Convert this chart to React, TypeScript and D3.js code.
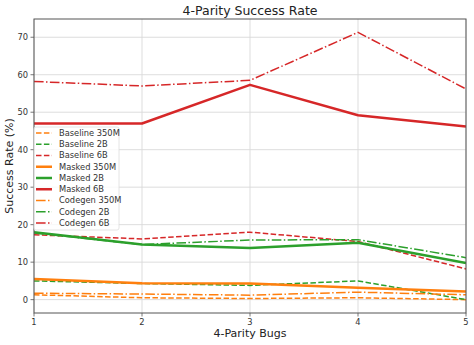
import React from "react";
import * as d3 from "d3";

const bugs = [1, 2, 3, 4, 5];
const seriesNames = [
  "Baseline 350M", "Baseline 2B", "Baseline 6B",
  "Masked 350M", "Masked 2B", "Masked 6B",
  "Codegen 350M", "Codegen 2B", "Codegen 6B",
];
const baseline350M = [1.3, 0.5, 0.3, 0.5, 0.0];
const baseline2B = [5.0, 4.3, 3.8, 5.0, 0.0];
const baseline6B = [17.3, 16.2, 18.0, 15.5, 8.2];
const masked350M = [5.5, 4.4, 4.3, 3.2, 2.2];
const masked2B = [18.0, 14.7, 13.8, 15.2, 9.8];
const masked6B = [47.0, 47.0, 57.3, 49.2, 46.2];
const codegen350M = [1.7, 1.5, 1.2, 2.0, 1.3];
const codegen2B = [17.8, 14.7, 15.9, 16.0, 11.2];
const codegen6B = [58.2, 57.0, 58.5, 71.3, 56.2];
const yTicks = [0, 10, 20, 30, 40, 50, 60, 70];

const allValues = [baseline350M, baseline2B, baseline6B, masked350M, masked2B, masked6B, codegen350M, codegen2B, codegen6B];
const colors = ["#ff7f0e", "#2ca02c", "#d62728"];
const kinds = ["dashed", "solid", "dashdot"];

export default function App() {
  const W = 474, H = 345;
  const left = 34, right = 466, top = 19, bottom = 313;
  const x = d3.scaleLinear().domain([1, 5]).range([left, right]);
  const yMin = 0, yMax = 71.3, pad = (yMax - yMin) * 0.05;
  const y = d3.scaleLinear().domain([yMin - pad, yMax + pad]).range([bottom, top]);
  const line = d3.line<number>().x((_, i) => x(bugs[i])).y((d) => y(d));
  const font = "DejaVu Sans, sans-serif";

  const styleFor = (i: number) => {
    const kind = kinds[Math.floor(i / 3)];
    const color = colors[i % 3];
    if (kind === "solid") return { stroke: color, strokeWidth: 2.5, dash: undefined };
    if (kind === "dashed") return { stroke: color, strokeWidth: 1.5, dash: "5.5,2.4" };
    return { stroke: color, strokeWidth: 1.5, dash: "9.6,2.4,1.5,2.4" };
  };

  const legX = 34, legY = 127, rowH = 11.25;

  return (
    <svg width={W} height={H} style={{ position: "absolute", left: 0, top: 0 }} fontFamily={font}>
      <rect width={W} height={H} fill="white" />
      <defs>
        <clipPath id="plotclip">
          <rect x={left} y={top} width={right - left} height={bottom - top} />
        </clipPath>
      </defs>
      {/* grid */}
      {bugs.map((b) => (
        <line key={"gx" + b} x1={x(b)} x2={x(b)} y1={top} y2={bottom} stroke="#d9d9d9" strokeWidth={0.9} />
      ))}
      {yTicks.map((t) => (
        <line key={"gy" + t} x1={left} x2={right} y1={y(t)} y2={y(t)} stroke="#d9d9d9" strokeWidth={0.9} />
      ))}
      {/* lines */}
      <g clipPath="url(#plotclip)">
        {allValues.map((vals, i) => {
          const s = styleFor(i);
          return (
            <path key={seriesNames[i]} d={line(vals) || ""} fill="none" stroke={s.stroke}
              strokeWidth={s.strokeWidth} strokeDasharray={s.dash} strokeLinejoin="round" />
          );
        })}
      </g>
      {/* spines */}
      <rect x={left} y={top} width={right - left} height={bottom - top} fill="none" stroke="#555" strokeWidth={1} />
      {/* y ticks */}
      {yTicks.map((t) => (
        <g key={"ty" + t}>
          <line x1={left - 3.5} x2={left} y1={y(t)} y2={y(t)} stroke="#555" strokeWidth={0.8} />
          <text x={left - 6} y={y(t)} dy="0.35em" textAnchor="end" fontSize={8.3} fill="#333">{t}</text>
        </g>
      ))}
      {bugs.map((b) => (
        <g key={"tx" + b}>
          <line x1={x(b)} x2={x(b)} y1={bottom} y2={bottom + 3.5} stroke="#555" strokeWidth={0.8} />
          <text x={x(b)} y={bottom + 12} textAnchor="middle" fontSize={8.3} fill="#333">{b}</text>
        </g>
      ))}
      <text x={(left + right) / 2} y={15} textAnchor="middle" fontSize={12.5} fill="#222">4-Parity Success Rate</text>
      <text x={(left + right) / 2} y={337} textAnchor="middle" fontSize={11} fill="#222">4-Parity Bugs</text>
      <text transform={`translate(13,${(top + bottom) / 2}) rotate(-90)`} textAnchor="middle" fontSize={11} fill="#222">Success Rate (%)</text>
      {/* legend */}
      <rect x={legX} y={legY} width={85} height={103} rx={2} fill="white" fillOpacity={0.8} stroke="#ddd" strokeWidth={0.8} />
      {seriesNames.map((n, i) => {
        const s = styleFor(i);
        const cy = legY + 6 + rowH * i;
        return (
          <g key={"lg" + n}>
            <line x1={legX + 2} x2={legX + 18} y1={cy} y2={cy} stroke={s.stroke} strokeWidth={s.strokeWidth} strokeDasharray={s.dash} />
            <text x={legX + 25} y={cy} dy="0.35em" fontSize={8.3} fill="#333">{n}</text>
          </g>
        );
      })}
    </svg>
  );
}
